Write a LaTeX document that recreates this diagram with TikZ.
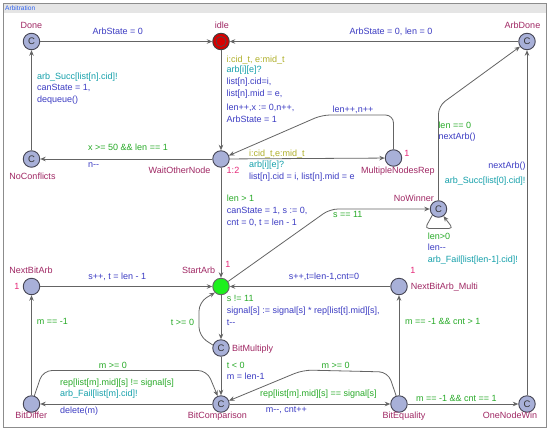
\documentclass[tikz,border=0pt]{standalone}
\usepackage{fontspec}
\setmainfont{Liberation Sans}
\usetikzlibrary{arrows.meta}
\definecolor{locname}{RGB}{160,40,100}
\definecolor{guardc}{RGB}{40,170,40}
\definecolor{syncc}{RGB}{20,160,170}
\definecolor{updc}{RGB}{60,60,195}
\definecolor{selc}{RGB}{175,175,40}
\definecolor{prioc}{RGB}{230,40,120}
\definecolor{locfill}{RGB}{168,176,216}
\definecolor{locline}{RGB}{70,70,85}
\definecolor{edgec}{RGB}{100,100,100}
\definecolor{titlec}{RGB}{50,100,240}
\tikzset{
  loc/.style={circle, draw=locline, fill=locfill, minimum size=16.5pt, inner sep=0pt, line width=0.9pt, font=\fontsize{9.5}{10}\selectfont, text=black!80},
  lbl/.style={inner sep=0pt, font=\fontsize{9}{10}\selectfont, text height=6.6pt, text depth=1.9pt},
  nm/.style={lbl, text=locname},
  pr/.style={lbl, text=prioc},
  gd/.style={lbl, text=guardc, anchor=west},
  sy/.style={lbl, text=syncc, anchor=west},
  up/.style={lbl, text=updc, anchor=west},
  se/.style={lbl, text=selc, anchor=west},
  edge/.style={draw=edgec, line width=0.8pt, -{Stealth[length=5.5pt,width=4.5pt]}},
}
\begin{document}
\begin{tikzpicture}[x=1pt,y=-1pt]
\useasboundingbox (0,0) rectangle (550,432);
% frame
\fill[white] (0,0) rectangle (550,432);
\fill[black!10] (3,3) rectangle (546,13);
\draw[black!45, line width=0.8pt] (3,3) rectangle (546,427);
\node[inner sep=0pt, anchor=west, text=titlec, font=\fontsize{6.6}{7}\selectfont] (title) at (5,8) {Arbitration};

% locations
\node[loc] (Done) at (31.5,41.5) {C};
\node[loc, fill={rgb,255:red,215;green,0;blue,0}, draw=black!75] (idle) at (221,41.5) {};
\draw[black!70, line width=0.7pt] (idle.center) circle (5pt);
\node[loc] (ArbDone) at (527,41.5) {C};
\node[loc] (NoConflicts) at (31.5,159) {C};
\node[loc] (WaitOtherNode) at (221,159) {};
\node[loc] (MultipleNodesRep) at (393.5,158) {};
\node[loc] (NoWinner) at (438.5,209) {C};
\node[loc] (NextBitArb) at (31.5,286.5) {};
\node[loc, fill={rgb,255:red,30;green,240;blue,30}, draw=black!60] (StartArb) at (221,286.5) {};
\node[loc] (NextBitArbMulti) at (399,286.5) {};
\node[loc] (BitMultiply) at (221,348) {C};
\node[loc] (BitDiffer) at (31.5,404) {};
\node[loc] (BitComparison) at (221,404) {C};
\node[loc] (BitEquality) at (399,404) {};
\node[loc] (OneNodeWin) at (527,404) {C};

% location names
\node[nm] (nDone) at (31.5,26) {Done};
\node[nm] (nidle) at (222,26) {idle};
\node[nm] (nArbDone) at (522.5,26) {ArbDone};
\node[nm] (nNoConflicts) at (32.5,177) {NoConflicts};
\node[nm] (nWaitOtherNode) at (179.5,171) {WaitOtherNode};
\node[pr] (pWaitOtherNode) at (233,171) {1:2};
\node[nm] (nMultipleNodesRep) at (398,171) {MultipleNodesRep};
\node[pr] (pMultipleNodesRep) at (407,154) {1};
\node[nm] (nNoWinner) at (413.8,199.3) {NoWinner};
\node[nm] (nNextBitArb) at (31,271) {NextBitArb};
\node[pr] (pNextBitArb) at (17,287) {1};
\node[nm] (nStartArb) at (198.7,271.5) {StartArb};
\node[pr] (pStartArb) at (228,265) {1};
\node[nm, anchor=west] (nNextBitArbMulti) at (410.7,287) {NextBitArb\_Multi};
\node[pr] (pNextBitArbMulti) at (413,271) {1};
\node[nm, anchor=west] (nBitMultiply) at (232,349) {BitMultiply};
\node[nm] (nBitDiffer) at (31.3,416) {BitDiffer};
\node[nm] (nBitComparison) at (217.5,416) {BitComparison};
\node[nm] (nBitEquality) at (404,416) {BitEquality};
\node[nm] (nOneNodeWin) at (510,416) {OneNodeWin};

% edges
\draw[edge] (Done) -- (idle);
\draw[edge] (ArbDone) -- (idle);
\draw[edge] (idle) -- (WaitOtherNode);
\draw[edge] (WaitOtherNode) -- (NoConflicts);
\draw[edge] (NoConflicts) -- (Done);
\draw[edge] (WaitOtherNode) -- (MultipleNodesRep);
\draw[edge, rounded corners=8pt] (MultipleNodesRep) -- (393.5,115) -- (322,115) -- (WaitOtherNode);
\draw[edge] (WaitOtherNode) -- (StartArb);
\draw[edge, rounded corners=8pt] (StartArb) -- (330,209) -- (NoWinner);
\draw[edge, rounded corners=8pt] (NoWinner) -- (438.5,106) -- (ArbDone);
\draw[edge, rounded corners=4pt] (NoWinner.225) -- (425,228.5) -- (453,228.5) -- (NoWinner.305);
\draw[edge] (OneNodeWin) -- (ArbDone);
\draw[edge] (NextBitArb) -- (StartArb);
\draw[edge] (NextBitArbMulti) -- (StartArb);
\draw[edge] (StartArb) -- (BitMultiply);
\draw[edge, rounded corners=9pt] (BitMultiply.160) -- (199,336) -- (199,302) -- (StartArb.225);
\draw[edge] (BitMultiply) -- (BitComparison);
\draw[edge] (BitComparison) -- (BitDiffer);
\draw[edge, rounded corners=9pt] (BitDiffer) -- (43,370.5) -- (207,370.5) -- (BitComparison);
\draw[edge] (BitDiffer) -- (NextBitArb);
\draw[edge] (BitComparison) -- (BitEquality);
\draw[edge, rounded corners=9pt] (BitEquality) -- (388,372) -- (303,370) -- (BitComparison);
\draw[edge] (BitEquality) -- (NextBitArbMulti);
\draw[edge] (BitEquality) -- (OneNodeWin);

% edge labels
\node[up, anchor=center] (e1) at (117.8,31.7) {ArbState = 0};
\node[up, anchor=center] (e2) at (391,31.7) {ArbState = 0, len = 0};

\node[se] (e3a) at (226.5,60) {i:cid\_t, e:mid\_t};
\node[sy] (e3b) at (226.5,70.5) {arb[i][e]?};
\node[up] (e3c) at (226.5,81.7) {list[n].cid=i,};
\node[up] (e3d) at (226.5,94.5) {list[n].mid = e,};
\node[up] (e3e) at (226.5,107.7) {len++,x := 0,n++,};
\node[up] (e3f) at (226.5,120) {ArbState = 1};

\node[gd, anchor=center] (e4a) at (128,148) {x >= 50 \&\& len == 1};
\node[up] (e4b) at (88,165) {n-{}-};

\node[sy] (e5a) at (37,76.7) {arb\_Succ[list[n].cid]!};
\node[up] (e5b) at (37,88.3) {canState = 1,};
\node[up] (e5c) at (37,100) {dequeue()};

\node[se] (e6a) at (249,154) {i:cid\_t,e:mid\_t};
\node[sy] (e6b) at (249,165) {arb[i][e]?};
\node[up] (e6c) at (249,176.7) {list[n].cid = i, list[n].mid = e};

\node[up, anchor=center] (e7) at (353,110) {len++,n++};

\node[gd] (e8a) at (226.7,199.3) {len > 1};
\node[up] (e8b) at (226.7,211) {canState = 1, s := 0,};
\node[up] (e8c) at (226.7,223.3) {cnt = 0, t = len - 1};

\node[gd, anchor=center] (e9) at (347.7,215) {s == 11};

\node[gd] (e10a) at (438.3,126) {len == 0};
\node[up] (e10b) at (438.3,137.3) {nextArb()};

\node[gd] (e11a) at (427.7,237.3) {len>0};
\node[up] (e11b) at (427.7,248.3) {len-{}-};
\node[sy] (e11c) at (427.7,260) {arb\_Fail[list[len-1].cid]!};

\node[up, anchor=east] (e12a) at (525.7,165.7) {nextArb()};
\node[sy, anchor=east] (e12b) at (525.7,181) {arb\_Succ[list[0].cid]!};

\node[up, anchor=center] (e13) at (117.2,276.7) {s++, t = len - 1};
\node[up, anchor=center] (e14) at (324,276.7) {s++,t=len-1,cnt=0};

\node[gd] (e15a) at (226.7,299) {s != 11};
\node[up] (e15b) at (226.7,311) {signal[s] := signal[s] * rep[list[t].mid][s],};
\node[up] (e15c) at (226.7,323.3) {t-{}-};

\node[gd, anchor=center] (e16) at (182.5,322.7) {t >= 0};

\node[gd] (e17a) at (226.7,366) {t < 0};
\node[up] (e17b) at (226.7,377.3) {m = len-1};

\node[gd, anchor=center] (e18) at (113,366) {m >= 0};

\node[gd] (e19a) at (60,382.7) {rep[list[m].mid][s] != signal[s]};
\node[sy] (e19b) at (60,394) {arb\_Fail[list[m].cid]!};
\node[up] (e19c) at (60,410.7) {delete(m)};

\node[gd] (e20) at (36.7,322.3) {m == -1};

\node[gd] (e21a) at (260,394) {rep[list[m].mid][s] == signal[s]};
\node[up] (e21b) at (265.7,410) {m-{}-, cnt++};

\node[gd, anchor=center] (e22) at (335.7,366) {m >= 0};
\node[gd] (e23) at (405,322.3) {m == -1 \&\& cnt > 1};
\node[gd] (e24) at (416,399) {m == -1 \&\& cnt == 1};
\end{tikzpicture}
\end{document}
